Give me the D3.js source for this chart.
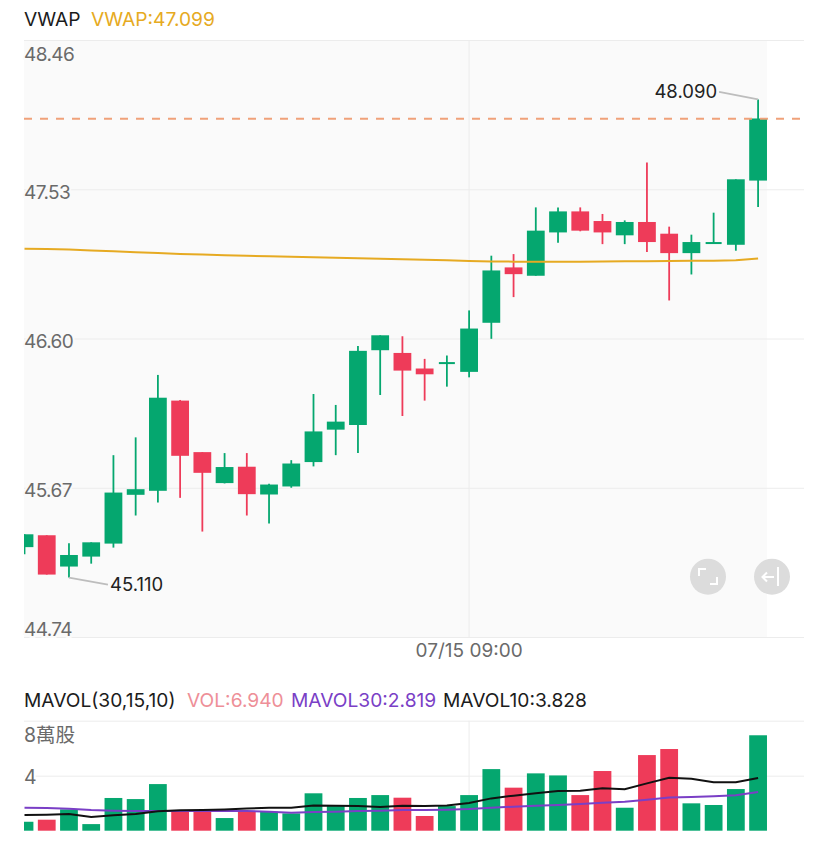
<!DOCTYPE html>
<html>
<head>
<meta charset="utf-8">
<script src="https://cdn.jsdelivr.net/npm/d3@7"></script>
<style>
  html, body { margin: 0; padding: 0; background: #fff; }
  svg { display: block; }
  text { font-family: Inter, "Noto Sans CJK TC", sans-serif; }
</style>
</head>
<body>
<svg id="svg" width="828" height="843"></svg>
<script>
// candle values
const opens  = [45.30,45.374,45.179,45.241,45.322,45.626,45.651,46.213,45.892,45.699,45.801,45.628,45.678,45.830,46.032,46.061,46.527,46.510,46.413,46.448,46.392,46.698,47.043,46.991,47.261,47.392,47.332,47.243,47.326,47.253,47.132,47.191,47.184,47.584];
const closes = [45.38,45.129,45.251,45.330,45.640,45.661,46.231,45.869,45.763,45.799,45.630,45.690,45.821,46.021,46.082,46.523,46.620,46.400,46.377,46.453,46.662,47.024,47.001,47.272,47.392,47.272,47.261,47.326,47.201,47.132,47.201,47.201,47.592,47.971];
const highs  = [45.38,45.374,45.324,45.330,45.873,45.984,46.373,46.217,45.892,45.886,45.886,45.695,45.842,46.254,46.186,46.554,46.620,46.614,46.473,46.494,46.775,47.116,47.126,47.417,47.417,47.417,47.376,47.336,47.696,47.297,47.247,47.384,47.592,48.09];
const lows   = [45.255,45.129,45.11,45.197,45.297,45.497,45.578,45.607,45.397,45.697,45.497,45.447,45.670,45.803,45.873,45.886,46.248,46.117,46.213,46.300,46.358,46.598,46.858,46.991,47.197,47.268,47.188,47.188,47.139,46.837,46.999,47.191,47.147,47.419];
const vwap   = [47.160,47.157,47.154,47.149,47.143,47.138,47.132,47.127,47.123,47.119,47.115,47.112,47.109,47.106,47.103,47.100,47.097,47.094,47.090,47.087,47.083,47.080,47.079,47.079,47.079,47.079,47.080,47.081,47.082,47.083,47.084,47.084,47.087,47.099];

const volumes = [0.65,0.80,1.55,0.48,2.38,2.30,3.39,1.45,1.45,0.92,1.38,1.38,1.26,2.72,1.79,2.38,2.59,2.40,1.07,1.79,2.59,4.48,3.13,4.17,4.02,2.59,4.34,1.67,5.50,5.94,1.99,1.87,3.03,6.94];
const mavol30 = [1.67,1.65,1.60,1.50,1.45,1.43,1.43,1.43,1.43,1.43,1.43,1.38,1.31,1.36,1.38,1.43,1.45,1.50,1.50,1.53,1.58,1.67,1.75,1.82,1.87,1.94,2.04,2.11,2.25,2.42,2.45,2.50,2.57,2.82];
const mavol10 = [1.14,1.16,1.21,0.99,1.12,1.21,1.41,1.48,1.50,1.55,1.62,1.67,1.67,1.84,1.82,1.79,1.72,1.82,1.79,1.84,2.01,2.35,2.55,2.72,2.88,2.91,3.08,3.01,3.44,3.85,3.78,3.52,3.52,3.83];

const priceTicks = [48.46, 47.53, 46.60, 45.67, 44.74];
const volumeTicks = [8, 4];
const lastPrice = 47.97;
const dateIdx = 20;
const dateLabel = "07/15 09:00";

const GREEN = "#05a76f", RED = "#ee3b59", GRID = "#ececec", AXIS = "#6a6a6a", GOLD = "#e6aa22";
const LEFT = 24, RIGHT = 804;
const idx = d3.range(opens.length);

const svg = d3.select("#svg");

const x = d3.scaleBand().domain(idx).range([13.4, 769.2]).paddingInner(0.2).paddingOuter(0.1);
const cx = i => x(i) + x.bandwidth() / 2;
const y = d3.scaleLinear().domain([44.74, 48.46]).range([637, 40]);
const yVol = d3.scaleLinear().domain([0, 8]).range([830.7, 720.7]);

svg.append("defs").append("clipPath").attr("id", "plot")
  .append("rect").attr("x", LEFT).attr("y", 0).attr("width", 780).attr("height", 843);

// price panel background
svg.append("rect").attr("x", LEFT).attr("y", y(48.46)).attr("width", 743).attr("height", y(44.74) - y(48.46)).attr("fill", "#fafafa");

// grid, axes give the lines and labels
const priceAxis = d3.axisLeft(y).tickValues(priceTicks).tickFormat(d3.format(".2f")).tickSize(-(RIGHT - LEFT)).tickPadding(0);
const gPrice = svg.append("g").attr("transform", `translate(${LEFT},0)`).call(priceAxis);
gPrice.select(".domain").remove();
gPrice.selectAll("line").attr("stroke", GRID);
gPrice.selectAll("text")
  .attr("x", 0).attr("text-anchor", "start").attr("dy", null)
  .attr("y", d => d === 48.46 ? 20 : d === 44.74 ? -2 : 9)
  .attr("fill", AXIS).attr("font-size", 19).attr("letter-spacing", -0.6)
  .attr("stroke", "#fafafa").attr("stroke-width", 4).attr("paint-order", "stroke");

const volAxis = d3.axisLeft(yVol).tickValues(volumeTicks).tickFormat(d => d === 8 ? "8萬股" : d).tickSize(-(RIGHT - LEFT)).tickPadding(0);
const gVol = svg.append("g").attr("transform", `translate(${LEFT},0)`).call(volAxis);
gVol.select(".domain").remove();
gVol.selectAll("line").attr("stroke", GRID);
gVol.selectAll("text")
  .attr("x", 0).attr("text-anchor", "start").attr("dy", null)
  .attr("y", d => d === 8 ? 21 : 8)
  .attr("fill", AXIS).attr("font-size", 19.5)
  .attr("stroke", "#fff").attr("stroke-width", 4).attr("paint-order", "stroke");

// vertical date line in both panels
[[y(48.46), y(44.74)], [yVol(8), yVol(0)]].forEach(r => {
  svg.append("line").attr("x1", cx(dateIdx)).attr("x2", cx(dateIdx)).attr("y1", r[0]).attr("y2", r[1]).attr("stroke", GRID);
});

svg.append("text").attr("x", cx(dateIdx)).attr("y", 656.5).attr("text-anchor", "middle")
  .attr("fill", AXIS).attr("font-size", 19).text(dateLabel);

const marks = svg.append("g").attr("clip-path", "url(#plot)");
const color = i => closes[i] >= opens[i] ? GREEN : RED;

// wicks
marks.selectAll(".wick").data(idx).enter().append("line")
  .attr("class", "wick")
  .attr("x1", cx).attr("x2", cx)
  .attr("y1", i => y(highs[i])).attr("y2", i => y(lows[i]))
  .attr("stroke", color).attr("stroke-width", 1.8);

// bodies, very small ones are drawn narrower
const isDoji = i => Math.abs(opens[i] - closes[i]) < 0.012;
marks.selectAll(".body").data(idx).enter().append("rect")
  .attr("class", "body")
  .attr("x", i => isDoji(i) ? cx(i) - 8 : x(i))
  .attr("width", i => isDoji(i) ? 16 : x.bandwidth())
  .attr("y", i => y(Math.max(opens[i], closes[i])))
  .attr("height", i => Math.max(2, Math.abs(y(opens[i]) - y(closes[i]))))
  .attr("fill", color);

// vwap
marks.append("path").datum(idx)
  .attr("fill", "none").attr("stroke", GOLD).attr("stroke-width", 2)
  .attr("d", d3.line().x(cx).y(i => y(vwap[i])));

// last price
svg.append("line").attr("x1", LEFT).attr("x2", 800).attr("y1", y(lastPrice)).attr("y2", y(lastPrice))
  .attr("stroke", "#f0a179").attr("stroke-width", 2).attr("stroke-dasharray", "8,8");

// high / low labels
const hiI = highs.indexOf(d3.max(highs)), loI = lows.indexOf(d3.min(lows));
svg.append("line").attr("x1", cx(hiI)).attr("y1", y(highs[hiI])).attr("x2", cx(hiI) - 39).attr("y2", y(highs[hiI]) - 7.5)
  .attr("stroke", "#bdbdbd").attr("stroke-width", 1.8);
svg.append("text").attr("x", cx(hiI) - 41).attr("y", y(highs[hiI]) - 1).attr("text-anchor", "end")
  .attr("fill", "#222").attr("font-size", 18.5).text(highs[hiI].toFixed(3));
svg.append("line").attr("x1", cx(loI)).attr("y1", y(lows[loI])).attr("x2", cx(loI) + 39).attr("y2", y(lows[loI]) + 7)
  .attr("stroke", "#bdbdbd").attr("stroke-width", 1.8);
svg.append("text").attr("x", cx(loI) + 41).attr("y", y(lows[loI]) + 13.5)
  .attr("fill", "#222").attr("font-size", 18.5).text(lows[loI].toFixed(3));

// volume bars
marks.selectAll(".vol").data(idx).enter().append("rect")
  .attr("class", "vol")
  .attr("x", i => x(i)).attr("width", x.bandwidth())
  .attr("y", i => yVol(volumes[i])).attr("height", i => yVol(0) - yVol(volumes[i]))
  .attr("fill", color);

marks.append("path").datum(idx)
  .attr("fill", "none").attr("stroke", "#7a3fc6").attr("stroke-width", 2)
  .attr("d", d3.line().x(cx).y(i => yVol(mavol30[i])));
marks.append("path").datum(idx)
  .attr("fill", "none").attr("stroke", "#111").attr("stroke-width", 2)
  .attr("d", d3.line().x(cx).y(i => yVol(mavol10[i])));

// legends
const legend = (txt, lx, ly, fill) => svg.append("text").attr("x", lx).attr("y", ly).attr("fill", fill).attr("font-size", 19.2).text(txt);
legend("VWAP", 24, 26, "#1c1c1c");
legend("VWAP:47.099", 91, 26, GOLD);
legend("MAVOL(30,15,10)", 24, 706.5, "#1c1c1c");
legend("VOL:6.940", 187, 706.5, "#ee8f98");
legend("MAVOL30:2.819", 291, 706.5, "#7a3fc6");
legend("MAVOL10:3.828", 443, 706.5, "#1c1c1c");

// the two round buttons
const btn = svg.append("g");
[708, 772].forEach(bx => btn.append("circle").attr("cx", bx).attr("cy", 576.7).attr("r", 18).attr("fill", "#dcdcdc"));
btn.append("path").attr("fill", "none").attr("stroke", "#fff").attr("stroke-width", 2)
  .attr("d", "M699,576 v-7 h7 M717,577 v7 h-7");
btn.append("path").attr("fill", "none").attr("stroke", "#fff").attr("stroke-width", 2)
  .attr("d", "M778,567 v19 M774,577 h-11 M767,572.5 l-4.5,4.5 l4.5,4.5");
</script>
</body>
</html>
